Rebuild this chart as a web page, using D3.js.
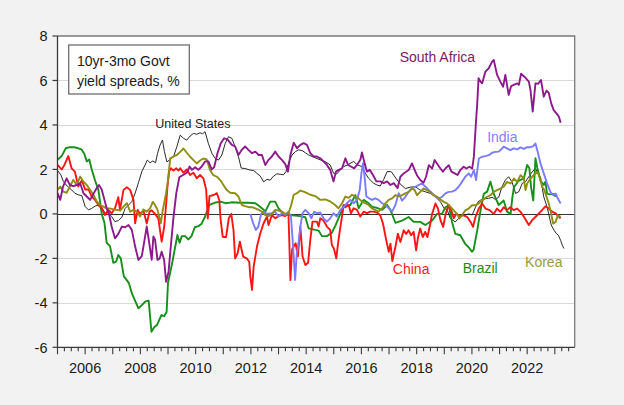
<!DOCTYPE html>
<html>
<head>
<meta charset="utf-8">
<script src="https://cdn.jsdelivr.net/npm/d3@7"></script>
<style>
  html, body { margin: 0; padding: 0; background: #f2f2f2; }
  svg { display: block; }
</style>
</head>
<body>
<div id="chart"></div>
<script>
// Monthly-ish readings of 10yr-3mo spreads, [decimal year, percent]
const unitedStates = [
    [2005.0,1.95],[2005.12,1.76],[2005.21,1.46],[2005.35,1.25],[2005.51,1.08],[2005.63,0.93],[2005.75,0.86],[2005.88,0.82],
    [2006.0,0.33],[2006.12,0.18],[2006.24,0.25],[2006.36,0.35],[2006.48,0.4],[2006.6,0.3],[2006.72,0.03],[2006.84,0.05],
    [2006.96,-0.12],[2007.08,-0.35],[2007.2,-0.3],[2007.33,-0.15],[2007.45,0.25],[2007.57,0.4],[2007.69,0.55],[2007.81,0.93],
    [2007.93,1.4],[2008.05,1.9],[2008.17,2.2],[2008.25,2.42],[2008.35,2.3],[2008.45,2.38],[2008.55,2.3],[2008.62,2.72],
    [2008.71,3.09],[2008.8,3.32],[2008.87,2.8],[2008.96,2.34],[2009.08,2.45],[2009.2,2.57],[2009.32,3.02],[2009.44,3.54],
    [2009.56,3.4],[2009.68,3.32],[2009.8,3.5],[2009.92,3.62],[2010.04,3.58],[2010.16,3.65],[2010.25,3.6],[2010.34,3.7],
    [2010.46,3.17],[2010.59,2.72],[2010.71,2.49],[2010.83,2.42],[2010.95,2.65],[2011.07,3.17],[2011.19,3.47],[2011.31,3.4],
    [2011.43,3.02],[2011.55,2.57],[2011.65,2.06],[2011.79,2.04],[2011.97,1.97],[2012.1,1.95],[2012.22,1.82],[2012.34,1.7],
    [2012.46,1.44],[2012.58,1.55],[2012.7,1.52],[2012.82,1.7],[2012.94,1.8],[2013.06,1.78],[2013.18,1.76],[2013.27,1.9],
    [2013.38,2.36],[2013.49,2.65],[2013.61,2.8],[2013.73,2.88],[2013.85,2.85],[2013.97,2.75],[2014.09,2.65],[2014.27,2.55],
    [2014.51,2.43],[2014.69,2.35],[2014.87,2.2],[2014.99,1.83],[2015.11,1.8],[2015.24,1.98],[2015.36,2.13],[2015.5,2.2],
    [2015.72,2.36],[2015.85,2.2],[2016.02,2.13],[2016.14,1.83],[2016.26,1.6],[2016.44,1.38],[2016.56,1.3],[2016.68,1.25],
    [2016.8,1.53],[2016.93,1.9],[2017.08,1.9],[2017.25,1.6],[2017.4,1.35],[2017.59,1.14],[2017.77,1.2],[2017.95,1.22],
    [2018.13,1.07],[2018.32,0.99],[2018.5,0.92],[2018.68,0.77],[2018.86,0.54],[2019.0,0.24],[2019.1,0.2],[2019.22,-0.21],
    [2019.4,-0.36],[2019.52,-0.2],[2019.64,0.0],[2019.76,-0.05],[2019.89,0.0],[2020.01,-0.05],[2020.13,0.3],[2020.22,0.54],
    [2020.31,0.62],[2020.49,0.68],[2020.61,0.7],[2020.73,0.75],[2020.85,0.65],[2020.97,0.75],[2021.09,1.22],[2021.21,1.52],
    [2021.33,1.67],[2021.45,1.44],[2021.58,0.92],[2021.7,1.0],[2021.82,1.37],[2021.94,1.45],[2022.06,1.67],[2022.18,1.89],
    [2022.3,2.04],[2022.38,1.85],[2022.48,1.67],[2022.6,0.77],[2022.7,0.39],[2022.78,0.0],[2022.87,-0.5],[2022.97,-0.73],
    [2023.06,-0.89],[2023.13,-0.96],[2023.21,-1.19],[2023.27,-1.41],[2023.33,-1.56]
];

const southAfrica = [
    [2005.0,0.93],[2005.1,0.63],[2005.2,1.23],[2005.33,1.6],[2005.45,1.3],[2005.57,1.25],[2005.7,1.3],[2005.82,1.38],
    [2005.94,0.93],[2006.06,0.78],[2006.18,0.63],[2006.3,0.9],[2006.42,1.16],[2006.5,1.3],[2006.6,1.1],[2006.7,0.63],
    [2006.78,0.25],[2006.86,0.03],[2006.96,-0.57],[2007.08,-1.1],[2007.2,-0.9],[2007.33,-0.57],[2007.45,-0.6],[2007.57,-0.5],
    [2007.69,-0.72],[2007.81,-1.47],[2007.93,-2.07],[2008.05,-1.9],[2008.11,-1.47],[2008.23,-0.57],[2008.32,-1.3],[2008.41,-2.07],
    [2008.47,-1.02],[2008.53,-1.15],[2008.62,-2.07],[2008.7,-2.0],[2008.77,-1.7],[2008.86,-2.07],[2008.93,-3.05],[2009.02,-2.6],
    [2009.1,-1.47],[2009.2,-0.12],[2009.3,0.93],[2009.41,1.65],[2009.56,1.76],[2009.68,1.85],[2009.78,2.13],[2009.87,1.98],
    [2009.98,2.1],[2010.1,1.98],[2010.22,2.13],[2010.34,2.36],[2010.46,2.36],[2010.58,2.0],[2010.67,2.1],[2010.79,2.73],
    [2010.91,3.18],[2011.03,3.4],[2011.15,3.35],[2011.31,3.1],[2011.43,3.03],[2011.55,2.65],[2011.67,2.88],[2011.79,3.03],
    [2011.91,2.88],[2012.04,2.73],[2012.16,2.8],[2012.28,2.65],[2012.4,2.65],[2012.52,2.2],[2012.64,2.43],[2012.76,2.58],
    [2012.88,2.8],[2013.0,2.58],[2013.12,2.43],[2013.24,2.25],[2013.34,1.9],[2013.43,2.65],[2013.55,3.2],[2013.67,2.95],
    [2013.79,3.1],[2013.91,3.18],[2014.03,3.1],[2014.15,2.73],[2014.27,2.58],[2014.39,2.58],[2014.51,2.5],[2014.63,2.36],
    [2014.75,2.2],[2014.87,1.98],[2014.99,1.46],[2015.08,1.9],[2015.18,1.98],[2015.3,2.05],[2015.42,2.5],[2015.52,2.2],
    [2015.62,2.13],[2015.74,2.05],[2015.84,2.2],[2015.96,2.43],[2016.02,2.76],[2016.1,2.36],[2016.2,1.9],[2016.3,1.98],
    [2016.42,1.75],[2016.54,1.46],[2016.69,1.46],[2016.81,1.38],[2016.93,1.46],[2017.05,1.3],[2017.17,1.38],[2017.31,1.16],
    [2017.41,1.67],[2017.53,1.82],[2017.71,1.97],[2017.83,2.27],[2017.93,1.97],[2018.01,1.74],[2018.13,1.52],[2018.25,1.4],
    [2018.34,1.67],[2018.44,2.19],[2018.56,2.04],[2018.65,2.42],[2018.77,2.2],[2018.86,2.04],[2018.95,1.9],[2019.04,2.04],
    [2019.16,2.19],[2019.26,1.9],[2019.38,1.82],[2019.48,1.75],[2019.58,1.97],[2019.7,2.12],[2019.8,2.04],[2019.91,2.12],
    [2020.01,2.04],[2020.07,2.57],[2020.15,4.2],[2020.19,4.9],[2020.24,6.1],[2020.31,5.95],[2020.37,5.87],[2020.49,6.4],
    [2020.61,6.55],[2020.73,6.85],[2020.79,6.92],[2020.91,6.25],[2021.03,5.95],[2021.13,5.72],[2021.21,6.25],[2021.33,5.35],
    [2021.42,5.75],[2021.51,5.8],[2021.64,5.87],[2021.7,5.8],[2021.78,6.3],[2021.9,6.17],[2022.06,5.95],[2022.12,5.57],
    [2022.2,4.6],[2022.3,5.87],[2022.4,5.85],[2022.5,6.02],[2022.6,5.27],[2022.7,5.54],[2022.78,5.45],[2022.87,4.97],
    [2022.96,4.67],[2023.06,4.52],[2023.15,4.37],[2023.21,4.1]
];

const india = [
    [2011.98,0.0],[2012.08,-0.42],[2012.18,-0.72],[2012.27,-0.57],[2012.37,0.0],[2012.46,0.1],[2012.58,0.0],[2012.76,0.03],
    [2012.88,0.1],[2013.0,-0.12],[2013.12,0.03],[2013.24,-0.05],[2013.36,0.1],[2013.45,-0.12],[2013.52,-1.32],[2013.6,-2.97],
    [2013.66,-1.8],[2013.72,-1.32],[2013.79,-0.57],[2013.87,0.03],[2013.97,0.18],[2014.09,0.03],[2014.19,-0.2],[2014.29,0.1],
    [2014.39,0.03],[2014.51,0.06],[2014.63,-0.2],[2014.75,-0.35],[2014.87,-0.2],[2014.99,0.03],[2015.11,-0.12],[2015.24,0.18],
    [2015.36,0.33],[2015.48,0.48],[2015.6,0.63],[2015.72,0.48],[2015.84,0.63],[2015.94,1.08],[2016.0,1.83],[2016.06,2.28],
    [2016.12,1.6],[2016.18,0.78],[2016.28,0.7],[2016.38,0.63],[2016.5,0.7],[2016.62,0.63],[2016.75,0.48],[2016.87,0.4],
    [2016.99,0.25],[2017.11,0.1],[2017.23,0.4],[2017.35,0.93],[2017.47,0.6],[2017.59,0.77],[2017.71,0.99],[2017.83,1.14],
    [2017.95,1.22],[2018.07,1.29],[2018.19,1.37],[2018.32,1.22],[2018.44,1.07],[2018.56,0.92],[2018.68,0.77],[2018.8,0.69],
    [2018.92,0.77],[2019.04,0.92],[2019.16,0.99],[2019.28,1.0],[2019.4,1.07],[2019.52,1.22],[2019.64,1.44],[2019.76,1.67],
    [2019.89,1.82],[2019.97,1.67],[2020.07,1.97],[2020.15,1.52],[2020.25,2.49],[2020.37,2.57],[2020.49,2.6],[2020.61,2.64],
    [2020.73,2.75],[2020.85,2.79],[2020.97,2.8],[2021.09,2.94],[2021.15,3.02],[2021.27,2.95],[2021.39,2.87],[2021.51,2.95],
    [2021.64,2.9],[2021.76,2.99],[2021.88,2.92],[2022.0,3.0],[2022.12,3.0],[2022.22,3.05],[2022.3,3.17],[2022.38,2.79],
    [2022.48,2.27],[2022.6,1.82],[2022.72,1.37],[2022.84,0.99],[2022.94,0.84],[2023.03,0.92],[2023.11,0.69],[2023.21,0.47]
];

const china = [
    [2005.0,2.2],[2005.15,2.0],[2005.25,2.2],[2005.39,2.6],[2005.51,2.05],[2005.63,1.9],[2005.75,1.23],[2005.88,1.5],
    [2006.0,1.1],[2006.12,1.1],[2006.24,0.78],[2006.36,0.63],[2006.48,0.4],[2006.6,0.25],[2006.72,-0.05],[2006.84,0.18],
    [2006.96,0.03],[2007.08,0.25],[2007.2,0.75],[2007.26,0.18],[2007.39,1.08],[2007.51,1.2],[2007.63,1.08],[2007.75,0.63],
    [2007.81,-0.42],[2007.9,0.18],[2007.99,0.0],[2008.11,0.15],[2008.23,-0.43],[2008.33,0.1],[2008.41,0.16],[2008.53,0.0],
    [2008.65,-0.2],[2008.77,-1.25],[2008.86,-0.6],[2008.93,0.4],[2008.98,1.23],[2009.04,1.9],[2009.1,2.05],[2009.2,1.95],
    [2009.3,2.05],[2009.38,1.95],[2009.44,2.05],[2009.56,1.85],[2009.68,2.0],[2009.8,1.75],[2009.92,1.85],[2010.04,1.6],
    [2010.16,1.75],[2010.28,1.6],[2010.38,1.1],[2010.44,-0.2],[2010.5,0.8],[2010.65,0.85],[2010.77,0.93],[2010.86,0.6],
    [2010.9,-0.2],[2010.98,-1.03],[2011.1,-1.05],[2011.2,-0.2],[2011.29,0.0],[2011.37,-0.72],[2011.43,-2.0],[2011.52,-1.77],
    [2011.6,-1.25],[2011.72,-1.92],[2011.85,-2.0],[2011.94,-2.15],[2011.98,-2.82],[2012.04,-3.42],[2012.1,-2.37],[2012.22,-1.47],
    [2012.34,-0.87],[2012.46,-0.42],[2012.58,-0.12],[2012.64,-0.5],[2012.76,-0.05],[2012.88,-0.2],[2013.0,-0.1],[2013.12,-0.05],
    [2013.24,-0.1],[2013.36,0.03],[2013.43,-2.97],[2013.49,-1.6],[2013.55,-1.47],[2013.62,-1.32],[2013.7,-1.92],[2013.79,-0.57],
    [2013.87,-1.92],[2013.97,-2.3],[2014.07,-2.2],[2014.15,-1.17],[2014.23,-0.35],[2014.39,-0.35],[2014.45,-0.57],[2014.51,-0.2],
    [2014.63,-0.3],[2014.75,-0.57],[2014.87,-0.72],[2014.93,-1.4],[2015.0,-1.55],[2015.09,-2.0],[2015.17,-1.17],[2015.26,-0.42],
    [2015.36,0.4],[2015.42,0.3],[2015.54,0.4],[2015.62,0.03],[2015.72,0.25],[2015.84,0.18],[2015.96,-0.12],[2016.08,0.1],
    [2016.2,0.03],[2016.32,0.1],[2016.44,0.1],[2016.56,0.06],[2016.68,-0.06],[2016.78,-0.43],[2016.9,-1.19],[2016.99,-1.71],
    [2017.05,-1.34],[2017.12,-2.12],[2017.23,-1.49],[2017.32,-0.89],[2017.41,-1.26],[2017.53,-0.74],[2017.62,-0.9],[2017.71,-0.74],
    [2017.8,-0.96],[2017.89,-0.81],[2017.98,-1.64],[2018.05,-1.05],[2018.13,-0.66],[2018.22,-1.04],[2018.31,-0.81],[2018.39,-1.04],
    [2018.47,-0.58],[2018.56,0.0],[2018.68,0.47],[2018.77,0.24],[2018.86,-0.28],[2018.96,-0.58],[2019.05,0.0],[2019.16,0.4],
    [2019.25,0.17],[2019.34,-0.2],[2019.44,0.02],[2019.56,-0.13],[2019.68,-0.06],[2019.82,-0.13],[2019.95,-0.36],[2020.04,-0.58],
    [2020.13,-0.13],[2020.25,0.24],[2020.37,0.47],[2020.49,0.24],[2020.64,0.17],[2020.79,0.0],[2020.91,0.24],[2021.03,0.09],
    [2021.15,0.3],[2021.27,0.17],[2021.39,0.3],[2021.51,0.17],[2021.64,0.24],[2021.76,0.09],[2021.88,-0.13],[2022.06,-0.5],
    [2022.18,-0.28],[2022.36,-0.06],[2022.48,0.09],[2022.66,0.34],[2022.78,0.24],[2022.9,0.1],[2023.03,0.02],[2023.15,-0.13],
    [2023.21,-0.2]
];

const brazil = [
    [2005.0,2.43],[2005.15,2.6],[2005.3,2.95],[2005.45,3.0],[2005.6,3.0],[2005.75,2.95],[2005.87,2.9],[2005.97,2.7],
    [2006.06,2.36],[2006.15,2.45],[2006.24,2.0],[2006.36,1.5],[2006.48,1.08],[2006.6,0.0],[2006.7,-0.4],[2006.78,-1.3],
    [2006.9,-1.45],[2007.02,-2.2],[2007.12,-2.15],[2007.2,-1.85],[2007.29,-2.0],[2007.4,-2.8],[2007.58,-3.1],[2007.7,-3.6],
    [2007.93,-4.25],[2008.05,-4.1],[2008.17,-3.95],[2008.3,-3.9],[2008.4,-5.3],[2008.5,-5.1],[2008.6,-5.0],[2008.76,-4.55],
    [2008.86,-4.6],[2008.95,-4.4],[2009.0,-3.1],[2009.16,-2.15],[2009.34,-0.95],[2009.42,-1.3],[2009.5,-1.0],[2009.62,-1.0],
    [2009.73,-1.15],[2009.85,-1.0],[2009.97,-0.6],[2010.1,-0.55],[2010.21,-0.45],[2010.33,-0.15],[2010.5,0.4],[2010.68,0.5],
    [2010.9,0.55],[2011.07,0.48],[2011.3,0.52],[2011.6,0.5],[2011.9,0.5],[2012.16,0.48],[2012.3,0.35],[2012.45,0.2],
    [2012.52,0.1],[2012.7,0.55],[2012.88,0.55],[2013.0,0.25],[2013.18,0.0],[2013.4,-0.05],[2013.6,-0.08],[2013.79,-0.1],
    [2013.97,-0.15],[2014.09,-0.65],[2014.33,-0.72],[2014.45,-0.75],[2014.57,-1.0],[2014.75,-1.0],[2014.93,-0.85],[2015.05,-0.55],
    [2015.24,0.0],[2015.36,0.4],[2015.6,0.4],[2015.78,0.85],[2015.9,0.25],[2016.08,0.63],[2016.26,0.48],[2016.38,0.33],
    [2016.56,0.27],[2016.75,0.18],[2016.93,0.4],[2017.05,0.18],[2017.23,-0.4],[2017.47,-0.3],[2017.71,-0.14],[2017.89,-0.36],
    [2018.13,-0.36],[2018.31,-0.5],[2018.56,-0.3],[2018.74,0.0],[2018.92,0.0],[2019.04,0.3],[2019.16,0.38],[2019.28,-0.36],
    [2019.4,-0.9],[2019.58,-0.96],[2019.76,-1.35],[2019.88,-1.5],[2020.0,-1.7],[2020.06,-1.62],[2020.19,-0.75],[2020.31,0.15],
    [2020.43,0.9],[2020.55,1.0],[2020.67,1.45],[2020.79,0.9],[2020.97,0.4],[2021.15,0.6],[2021.27,0.1],[2021.4,0.0],
    [2021.46,0.7],[2021.52,1.2],[2021.7,1.5],[2021.88,1.6],[2022.0,2.2],[2022.08,2.05],[2022.14,1.2],[2022.22,0.6],
    [2022.3,2.5],[2022.36,2.1],[2022.48,1.5],[2022.6,1.3],[2022.66,1.45],[2022.72,0.9],[2022.85,0.88],[2022.97,0.9],
    [2023.03,0.77]
];

const korea = [
    [2005.0,1.08],[2005.1,1.23],[2005.21,1.0],[2005.33,0.95],[2005.45,1.23],[2005.57,1.53],[2005.7,1.3],[2005.82,1.68],
    [2005.94,1.45],[2006.06,1.3],[2006.18,1.08],[2006.3,0.86],[2006.42,0.56],[2006.54,0.4],[2006.66,0.33],[2006.78,0.25],
    [2006.9,0.25],[2007.02,0.2],[2007.15,0.18],[2007.27,0.15],[2007.39,0.33],[2007.51,0.48],[2007.63,0.1],[2007.75,0.18],
    [2007.87,0.1],[2007.99,-0.12],[2008.11,0.2],[2008.23,0.1],[2008.35,0.25],[2008.45,0.54],[2008.53,0.4],[2008.62,0.18],
    [2008.74,-0.42],[2008.8,0.1],[2008.86,0.48],[2008.93,0.93],[2009.0,1.53],[2009.08,2.5],[2009.2,2.58],[2009.32,2.65],
    [2009.44,2.79],[2009.56,2.94],[2009.68,2.75],[2009.8,2.57],[2009.92,2.42],[2010.04,2.27],[2010.16,2.4],[2010.28,2.49],
    [2010.4,2.45],[2010.52,1.97],[2010.64,1.74],[2010.77,1.67],[2010.89,1.52],[2011.01,1.29],[2011.13,1.07],[2011.25,0.95],
    [2011.43,0.93],[2011.55,0.78],[2011.67,0.4],[2011.79,0.35],[2011.92,0.3],[2012.04,0.3],[2012.16,0.25],[2012.28,0.18],
    [2012.4,0.1],[2012.52,-0.05],[2012.64,-0.1],[2012.76,0.0],[2012.88,0.18],[2013.0,0.15],[2013.12,0.1],[2013.24,0.0],
    [2013.36,0.03],[2013.46,0.4],[2013.55,0.86],[2013.67,0.93],[2013.79,1.05],[2013.91,1.0],[2014.03,0.93],[2014.15,0.86],
    [2014.33,0.8],[2014.51,0.63],[2014.69,0.65],[2014.87,0.56],[2015.05,0.4],[2015.17,0.25],[2015.3,0.48],[2015.42,0.78],
    [2015.54,0.72],[2015.66,0.86],[2015.78,0.78],[2015.9,0.7],[2016.02,0.55],[2016.14,0.48],[2016.26,0.4],[2016.38,0.25],
    [2016.5,0.18],[2016.62,0.1],[2016.75,0.25],[2016.87,0.48],[2016.99,0.63],[2017.11,0.7],[2017.23,0.84],[2017.35,0.8],
    [2017.47,0.84],[2017.59,0.92],[2017.71,0.99],[2017.83,1.14],[2017.93,1.07],[2018.01,0.84],[2018.13,0.99],[2018.25,1.14],
    [2018.37,1.07],[2018.5,0.99],[2018.62,0.84],[2018.74,0.77],[2018.86,0.65],[2018.98,0.54],[2019.1,0.47],[2019.22,0.32],
    [2019.34,0.16],[2019.46,0.0],[2019.55,-0.21],[2019.64,-0.06],[2019.76,0.16],[2019.88,0.24],[2020.01,0.39],[2020.13,0.39],
    [2020.25,0.47],[2020.37,0.62],[2020.55,0.77],[2020.67,0.84],[2020.79,0.99],[2020.91,1.07],[2021.03,1.14],[2021.15,1.22],
    [2021.27,1.44],[2021.4,1.37],[2021.52,1.59],[2021.64,1.44],[2021.76,1.74],[2021.88,1.59],[2021.94,1.07],[2022.0,1.37],
    [2022.12,1.59],[2022.24,1.74],[2022.36,1.89],[2022.45,1.67],[2022.54,1.22],[2022.62,1.07],[2022.7,0.77],[2022.78,0.47],
    [2022.87,0.0],[2022.94,-0.44],[2023.03,-0.36],[2023.11,-0.06],[2023.21,-0.13]
];

// Axis ticks
const yTicks = [-6, -4, -2, 0, 2, 4, 6, 8];
const yearLabels = [2006, 2008, 2010, 2012, 2014, 2016, 2018, 2020, 2022];
const legendLines = ['10yr-3mo Govt', 'yield spreads, %'];

// Series in drawing order with their label placement
const seriesList = [
    { name: 'United States', data: unitedStates, color: '#111111', width: 0.9, labelColor: '#222222', labelSize: 12.5, lx: 2009.9, ly: 4.05 },
    { name: 'Brazil',        data: brazil,       color: '#17901b', width: 1.9, labelColor: '#1e8a1e', labelSize: 14,   lx: 2020.3, ly: -2.42 },
    { name: 'China',         data: china,        color: '#ff1414', width: 1.9, labelColor: '#ff2020', labelSize: 14,   lx: 2017.8, ly: -2.49 },
    { name: 'India',         data: india,        color: '#7b7bff', width: 1.9, labelColor: '#7f7fff', labelSize: 14,   lx: 2021.1, ly: 3.45 },
    { name: 'Korea',         data: korea,        color: '#8e8e12', width: 1.9, labelColor: '#9a9a3c', labelSize: 14,   lx: 2022.6, ly: -2.16 },
    { name: 'South Africa',  data: southAfrica,  color: '#8c1a8c', width: 1.9, labelColor: '#7d1a66', labelSize: 14,   lx: 2018.75, ly: 7.04 }
];

const width = 624;
const height = 405;
const plot = { left: 57.5, right: 574.7, top: 36, bottom: 347.3 };
const fontFamily = '"Liberation Sans", Arial, sans-serif';

const x = d3.scaleLinear().domain([2005, 2023.72]).range([plot.left, plot.right]);
const y = d3.scaleLinear().domain([-6, 8]).range([plot.bottom, plot.top]);

const svg = d3.select('#chart')
    .append('svg')
    .attr('width', width)
    .attr('height', height)
    .style('font-family', fontFamily);

svg.append('rect')
    .attr('width', width)
    .attr('height', height)
    .attr('fill', '#f2f2f2');

// Plot background
svg.append('rect')
    .attr('x', plot.left)
    .attr('y', plot.top)
    .attr('width', plot.right - plot.left)
    .attr('height', plot.bottom - plot.top)
    .attr('fill', '#ffffff');

// Horizontal grid
svg.append('g')
    .selectAll('line')
    .data(yTicks.filter(d => d !== 0 && d !== 8 && d !== -6))
    .join('line')
    .attr('x1', plot.left)
    .attr('x2', plot.right)
    .attr('y1', d => Math.round(y(d)) + 0.5)
    .attr('y2', d => Math.round(y(d)) + 0.5)
    .attr('stroke', '#d9d9d9')
    .attr('stroke-width', 1);

// Zero line
svg.append('line')
    .attr('x1', plot.left)
    .attr('x2', plot.right)
    .attr('y1', Math.round(y(0)) + 0.5)
    .attr('y2', Math.round(y(0)) + 0.5)
    .attr('stroke', '#333333')
    .attr('stroke-width', 1);

// Series lines
const line = d3.line()
    .x(d => x(d[0]))
    .y(d => y(d[1]));

svg.append('clipPath').attr('id', 'plot-clip')
    .append('rect')
    .attr('x', plot.left)
    .attr('y', plot.top)
    .attr('width', plot.right - plot.left)
    .attr('height', plot.bottom - plot.top);

svg.append('g')
    .attr('clip-path', 'url(#plot-clip)')
    .selectAll('path')
    .data(seriesList)
    .join('path')
    .attr('fill', 'none')
    .attr('stroke', d => d.color)
    .attr('stroke-width', d => d.width)
    .attr('stroke-linejoin', 'round')
    .attr('d', d => line(d.data));

// Frame: gray top/right, dark axes left/bottom
svg.append('path')
    .attr('d', `M${plot.left},${plot.top}H${plot.right}V${plot.bottom}`)
    .attr('fill', 'none')
    .attr('stroke', '#7a7a7a')
    .attr('stroke-width', 1.3);

svg.append('path')
    .attr('d', `M${plot.left},${plot.top}V${plot.bottom}H${plot.right}`)
    .attr('fill', 'none')
    .attr('stroke', '#3a3a3a')
    .attr('stroke-width', 1.3);

// Y axis ticks and labels
const yAxis = svg.append('g');
yAxis.selectAll('line')
    .data(yTicks)
    .join('line')
    .attr('x1', plot.left - 5)
    .attr('x2', plot.left)
    .attr('y1', d => y(d))
    .attr('y2', d => y(d))
    .attr('stroke', '#3a3a3a')
    .attr('stroke-width', 1.2);

yAxis.selectAll('text')
    .data(yTicks)
    .join('text')
    .attr('x', plot.left - 10)
    .attr('y', d => y(d))
    .attr('dy', '0.36em')
    .attr('text-anchor', 'end')
    .attr('font-size', 14.5)
    .attr('fill', '#1a1a1a')
    .text(d => d);

// X axis: yearly major ticks, quarterly minor ticks
const xAxis = svg.append('g');
const quarterTicks = d3.range(2005, 2023.75, 0.25).filter(t => t <= 2023.72);

xAxis.selectAll('line')
    .data(quarterTicks)
    .join('line')
    .attr('x1', d => x(d))
    .attr('x2', d => x(d))
    .attr('y1', plot.bottom)
    .attr('y2', d => plot.bottom + (Number.isInteger(d) ? 7 : 4))
    .attr('stroke', '#3a3a3a')
    .attr('stroke-width', 1.1);

xAxis.selectAll('text')
    .data(yearLabels)
    .join('text')
    .attr('x', d => x(d))
    .attr('y', 372.5)
    .attr('text-anchor', 'middle')
    .attr('font-size', 14.5)
    .attr('fill', '#1a1a1a')
    .text(d => d);

// Legend box
const legend = svg.append('g');
legend.append('rect')
    .attr('x', 68.7)
    .attr('y', 45)
    .attr('width', 120.6)
    .attr('height', 49)
    .attr('fill', '#ffffff')
    .attr('stroke', '#6e6e6e')
    .attr('stroke-width', 1.3);

legend.selectAll('text')
    .data(legendLines)
    .join('text')
    .attr('x', 77)
    .attr('y', (d, i) => 66 + i * 19.5)
    .attr('font-size', 14)
    .attr('fill', '#1a1a1a')
    .text(d => d);

// Series labels
svg.append('g')
    .selectAll('text')
    .data(seriesList)
    .join('text')
    .attr('x', d => x(d.lx))
    .attr('y', d => y(d.ly))
    .attr('dy', '0.36em')
    .attr('text-anchor', 'middle')
    .attr('font-size', d => d.labelSize)
    .attr('fill', d => d.labelColor)
    .text(d => d.name);
</script>
</body>
</html>
